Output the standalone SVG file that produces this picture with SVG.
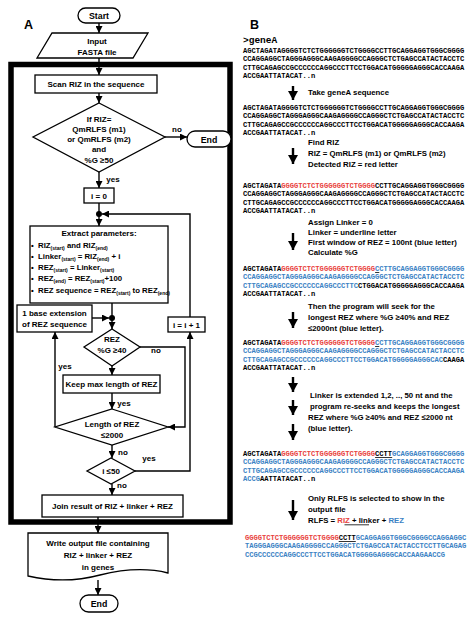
<svg xmlns="http://www.w3.org/2000/svg" width="474" height="618" viewBox="0 0 474 618">
<style>
text{font-family:"Liberation Sans",Arial,sans-serif;font-weight:bold;fill:#000}
.l{font-size:8px;text-anchor:middle}
.ls{font-size:7.8px}
.sub{font-size:5px}
.r{font-size:7.8px}
.lab{font-size:12.5px}
.seq{font-family:"Liberation Mono","Courier New",monospace;font-size:7.1px;font-weight:bold}
.red{fill:#e8413c}
.blue{fill:#3b82c4}
.box{fill:#fff;stroke:#000;stroke-width:1.3}
.frame{fill:none;stroke:#000;stroke-width:5.5}
.con{fill:none;stroke:#000;stroke-width:1.4}
.big{fill:none;stroke:#000;stroke-width:2.4}
.ul{stroke:#000;stroke-width:0.8}
</style>
<defs>
<marker id="ah" markerUnits="userSpaceOnUse" markerWidth="7" markerHeight="7" refX="7" refY="3.5" orient="auto"><path d="M0,0 L7,3.5 L0,7 z" fill="#000"/></marker>
<marker id="bah" markerUnits="userSpaceOnUse" markerWidth="10" markerHeight="10" refX="9" refY="5" orient="auto"><path d="M0,0 L9,5 L0,10 z" fill="#000"/></marker>
</defs>
<rect width="474" height="618" fill="#fff"/>

<!-- Panel A -->
<text class="lab" x="24" y="29">A</text>
<g id="process-frame"><rect class="frame" x="11" y="64.5" width="219" height="457.5"/></g>

<g id="connectors">
<path class="con" d="M99,23 V33" marker-end="url(#ah)"/>
<path class="con" d="M99,58 V75" marker-end="url(#ah)"/>
<path class="con" d="M99,93 V103" marker-end="url(#ah)"/>
<path class="con" d="M165,137 H187" marker-end="url(#ah)"/>
<path class="con" d="M99,172 V188" marker-end="url(#ah)"/>
<path class="con" d="M99,203 V226" marker-end="url(#ah)"/>
<path class="con" d="M190,317 V214 H102" marker-end="url(#ah)"/>
<path class="con" d="M112,303 V329" marker-end="url(#ah)"/>
<path class="con" d="M92,318 H109" marker-end="url(#ah)"/>
<path class="con" d="M112,366 V375" marker-end="url(#ah)"/>
<path class="con" d="M140,347 H185 V427 H168" marker-end="url(#ah)"/>
<path class="con" d="M112,393 V409" marker-end="url(#ah)"/>
<path class="con" d="M55,427 V332" marker-end="url(#ah)"/>
<path class="con" d="M112,445 V458" marker-end="url(#ah)"/>
<path class="con" d="M135,471 H190 V332" marker-end="url(#ah)"/>
<path class="con" d="M112,484 V495" marker-end="url(#ah)"/>
<path class="con" d="M98,517 V533" marker-end="url(#ah)"/>
<path class="con" d="M98,580 V595" marker-end="url(#ah)"/>
<circle cx="99" cy="214" r="3"/>
<circle cx="112" cy="318" r="3"/>
<text class="l" x="177" y="132">no</text>
<text class="l" x="113" y="182">yes</text>
<text class="l" x="156" y="353">no</text>
<text class="l" x="65" y="369">yes</text>
<text class="l" x="124" y="406">yes</text>
<text class="l" x="123" y="455">no</text>
<text class="l" x="149" y="461">yes</text>
<text class="l" x="122" y="488">no</text>
</g>

<g id="start"><rect class="box" x="78" y="8" width="42" height="15" rx="7.5"/><text class="l" x="99" y="19" style="font-size:8.8px">Start</text></g>
<g id="input"><path class="box" d="M52,33 H148 L133,58 H37 Z"/><text class="l" x="97" y="44">Input</text><text class="l" x="97" y="55">FASTA file</text></g>
<g id="scan"><rect class="box" x="35" y="75" width="122" height="18"/><text class="l" x="96" y="87">Scan RIZ in the sequence</text></g>
<g id="cond-riz"><path class="box" d="M99,103 L165,137 L99,172 L33,137 Z"/>
<text class="l" x="99" y="122">If RIZ=</text><text class="l" x="99" y="132">QmRLFS (m1)</text><text class="l" x="99" y="142">or QmRLFS (m2)</text><text class="l" x="99" y="152">and</text><text class="l" x="99" y="163">%G ≥50</text></g>
<g id="end-top"><rect class="box" x="187" y="131" width="44" height="16" rx="8"/><text class="l" x="209" y="142.5" style="font-size:8.8px">End</text></g>
<g id="i0"><rect class="box" x="84" y="188" width="30" height="15"/><text class="l" x="99" y="199">i = 0</text></g>
<g id="extract"><rect class="box" x="30" y="226" width="138" height="77"/>
<text class="l" x="99" y="236">Extract parameters:</text>
<text class="ls" x="31" y="248">•</text><text class="ls" x="38" y="248">RIZ<tspan class="sub" dy="2">(start)</tspan><tspan dy="-2"> and RIZ</tspan><tspan class="sub" dy="2">(end)</tspan></text>
<text class="ls" x="31" y="259">•</text><text class="ls" x="38" y="259">Linker<tspan class="sub" dy="2">(start)</tspan><tspan dy="-2"> = RIZ</tspan><tspan class="sub" dy="2">(end)</tspan><tspan dy="-2">  + i</tspan></text>
<text class="ls" x="31" y="270">•</text><text class="ls" x="38" y="270">REZ<tspan class="sub" dy="2">(start)</tspan><tspan dy="-2"> = Linker</tspan><tspan class="sub" dy="2">(start)</tspan></text>
<text class="ls" x="31" y="281">•</text><text class="ls" x="38" y="281">REZ<tspan class="sub" dy="2">(end)</tspan><tspan dy="-2"> = REZ</tspan><tspan class="sub" dy="2">(start)</tspan><tspan dy="-2">+100</tspan></text>
<text class="ls" x="31" y="293">•</text><text class="ls" x="38" y="293">REZ sequence = REZ<tspan class="sub" dy="2">(start)</tspan><tspan dy="-2"> to REZ</tspan><tspan class="sub" dy="2">(end)</tspan></text></g>
<g id="extend"><rect class="box" x="17" y="305" width="75" height="27"/><text class="l" x="54.5" y="316">1 base extension</text><text class="l" x="54.5" y="327">of REZ sequence</text></g>
<g id="cond-rez"><path class="box" d="M112,329 L140,347 L112,366 L84,347 Z"/><text class="l" x="112" y="342">REZ</text><text class="l" x="112" y="353">%G ≥40</text></g>
<g id="inc"><rect class="box" x="168" y="317" width="37" height="15"/><text class="l" x="186.5" y="328">i = i + 1</text></g>
<g id="keep"><rect class="box" x="63" y="375" width="97" height="18"/><text class="l" x="111.5" y="387">Keep max length of REZ</text></g>
<g id="cond-len"><path class="box" d="M112,409 L168,427 L112,445 L55,427 Z"/><text class="l" x="112" y="427">Length of REZ</text><text class="l" x="112" y="438">≤2000</text></g>
<g id="cond-i"><path class="box" d="M111,458 L135,471 L111,484 L87,471 Z"/><text class="l" x="111" y="474">i ≤50</text></g>
<g id="join"><rect class="box" x="42" y="495" width="141" height="22"/><text class="l" x="112.5" y="509">Join result of RIZ + linker + REZ</text></g>
<g id="output"><path class="box" d="M28,533 H168 V573 C148,568 124,569 100,575 C74,582 50,581 28,576 Z"/>
<text class="l" x="98" y="546">Write output file containing</text><text class="l" x="98" y="558">RIZ + linker + REZ</text><text class="l" x="98" y="570">in genes</text></g>
<g id="end-bottom"><rect class="box" x="80" y="595" width="38" height="17" rx="8.5"/><text class="l" x="99" y="606.5" style="font-size:8.8px">End</text></g>

<!-- Panel B -->
<g id="panel-b">
<text class="lab" x="250" y="29">B</text>
<text x="243" y="43" style="font-family:'Liberation Mono','Courier New',monospace;font-size:9.5px;font-weight:bold">&gt;geneA</text>

<g id="seq1">
<text class="seq" x="243" y="53">AGCTAGATAGGGGTCTCTGGGGGGTCTGGGGCCTTGCAGGAGGTGGGCGGGG</text>
<text class="seq" x="243" y="61.3">CCAGGAGGCTAGGGAGGGCAAGAGGGGCCAGGGCTCTGAGCCATACTACCTC</text>
<text class="seq" x="243" y="69.6">CTTGCAGAGCCGCCCCCCAGGCCCTTCCTGGACATGGGGGAGGGCACCAAGA</text>
<text class="seq" x="243" y="78">ACCGAATTATACAT..n</text>
</g>
<path class="big" d="M293,86 V100" marker-end="url(#bah)"/>
<text class="r" x="308" y="95">Take geneA sequence</text>

<g id="seq2">
<text class="seq" x="243" y="110">AGCTAGATAGGGGTCTCTGGGGGGTCTGGGGCCTTGCAGGAGGTGGGCGGGG</text>
<text class="seq" x="243" y="118.3">CCAGGAGGCTAGGGAGGGCAAGAGGGGCCAGGGCTCTGAGCCATACTACCTC</text>
<text class="seq" x="243" y="126.6">CTTGCAGAGCCGCCCCCCAGGCCCTTCCTGGACATGGGGGAGGGCACCAAGA</text>
<text class="seq" x="243" y="135">ACCGAATTATACAT..n</text>
</g>
<path class="big" d="M293,148 V164" marker-end="url(#bah)"/>
<text class="r" x="308" y="145">Find RIZ</text>
<text class="r" x="308" y="156">RIZ = QmRLFS (m1) or QmRLFS (m2)</text>
<text class="r" x="308" y="167">Detected RIZ = red letter</text>

<g id="seq3">
<text class="seq" x="243" y="188">AGCTAGATA<tspan class="red">GGGGTCTCTGGGGGGTCTGGGG</tspan>CCTTGCAGGAGGTGGGCGGGG</text>
<text class="seq" x="243" y="196.3">CCAGGAGGCTAGGGAGGGCAAGAGGGGCCAGGGCTCTGAGCCATACTACCTC</text>
<text class="seq" x="243" y="204.6">CTTGCAGAGCCGCCCCCCAGGCCCTTCCTGGACATGGGGGAGGGCACCAAGA</text>
<text class="seq" x="243" y="213">ACCGAATTATACAT..n</text>
</g>
<path class="big" d="M293,233 V250" marker-end="url(#bah)"/>
<text class="r" x="308" y="225">Assign Linker = 0</text>
<text class="r" x="308" y="235">Linker = underline letter</text>
<text class="r" x="308" y="245">First window of REZ = 100nt (blue letter)</text>
<text class="r" x="308" y="255">Calculate %G</text>

<g id="seq4">
<text class="seq" x="243" y="271">AGCTAGATA<tspan class="red">GGGGTCTCTGGGGGGTCTGGGG</tspan><tspan class="blue">CCTTGCAGGAGGTGGGCGGGG</tspan></text>
<line class="ul" x1="375.1" y1="272.5" x2="379.3" y2="272.5"/>
<text class="seq blue" x="243" y="279.3">CCAGGAGGCTAGGGAGGGCAAGAGGGGCCAGGGCTCTGAGCCATACTACCTC</text>
<text class="seq" x="243" y="287.6"><tspan class="blue">CTTGCAGAGCCGCCCCCCAGGCCCTTC</tspan>CTGGACATGGGGGAGGGCACCAAGA</text>
<text class="seq" x="243" y="296">ACCGAATTATACAT..n</text>
</g>
<path class="big" d="M293,312 V328" marker-end="url(#bah)"/>
<text class="r" x="308" y="309">Then the program will seek for the</text>
<text class="r" x="308" y="320">longest REZ where %G ≥40% and REZ</text>
<text class="r" x="308" y="331">≤2000nt (blue letter).</text>

<g id="seq5">
<text class="seq" x="243" y="345">AGCTAGATA<tspan class="red">GGGGTCTCTGGGGGGTCTGGGG</tspan><tspan class="blue">CCTTGCAGGAGGTGGGCGGGG</tspan></text>
<line class="ul" x1="375.1" y1="346.5" x2="379.3" y2="346.5"/>
<text class="seq blue" x="243" y="353.3">CCAGGAGGCTAGGGAGGGCAAGAGGGGCCAGGGCTCTGAGCCATACTACCTC</text>
<text class="seq" x="243" y="361.6"><tspan class="blue">CTTGCAGAGCCGCCCCCCAGGCCCTTCCTGGACATGGGGGAGGGCAC</tspan>CAAGA</text>
<text class="seq" x="243" y="370">ACCGAATTATACAT..n</text>
</g>
<path class="big" d="M293,377 V392" marker-end="url(#bah)"/>
<path class="big" d="M293,400 V415" marker-end="url(#bah)"/>
<path class="big" d="M293,424 V440" marker-end="url(#bah)"/>
<text class="r" x="310" y="398">Linker is extended 1,2, .., 50 nt  and the</text>
<text class="r" x="310" y="409">program re-seeks and keeps the longest</text>
<text class="r" x="308" y="420">REZ where %G ≥40% and REZ ≤2000 nt</text>
<text class="r" x="308" y="431">(blue letter).</text>

<g id="seq6">
<text class="seq" x="243" y="456">AGCTAGATA<tspan class="red">GGGGTCTCTGGGGGGTCTGGGG</tspan>CCTT<tspan class="blue">GCAGGAGGTGGGCGGGG</tspan></text>
<line class="ul" x1="375.1" y1="457.5" x2="392.2" y2="457.5"/>
<text class="seq blue" x="243" y="464.3">CCAGGAGGCTAGGGAGGGCAAGAGGGGCCAGGGCTCTGAGCCATACTACCTC</text>
<text class="seq blue" x="243" y="472.6">CTTGCAGAGCCGCCCCCCAGGCCCTTCCTGGACATGGGGGAGGGCACCAAGA</text>
<text class="seq" x="243" y="481"><tspan class="blue">ACCG</tspan>AATTATACAT..n</text>
</g>
<path class="big" d="M293,500 V520" marker-end="url(#bah)"/>
<text class="r" x="308" y="501">Only RLFS is selected to show in the</text>
<text class="r" x="308" y="512">output file</text>
<text class="r" x="308" y="523">RLFS = <tspan class="red">RIZ</tspan> + linker + <tspan class="blue">REZ</tspan></text>
<line class="ul" x1="344.5" y1="524.8" x2="369" y2="524.8"/>

<g id="seq-final">
<text class="seq" x="245" y="540"><tspan class="red">GGGGTCTCTGGGGGGTCTGGGG</tspan>CCTT<tspan class="blue">GCAGGAGGTGGGCGGGGCCAGGAGGC</tspan></text>
<line class="ul" x1="338.7" y1="541.5" x2="355.8" y2="541.5"/>
<text class="seq blue" x="245" y="548.3">TAGGGAGGGCAAGAGGGGCCAGGGCTCTGAGCCATACTACCTCCTTGCAGAG</text>
<text class="seq blue" x="245" y="556.6">CCGCCCCCCAGGCCCTTCCTGGACATGGGGGAGGGCACCAAGAACCG</text>
</g>
</g>
</svg>
